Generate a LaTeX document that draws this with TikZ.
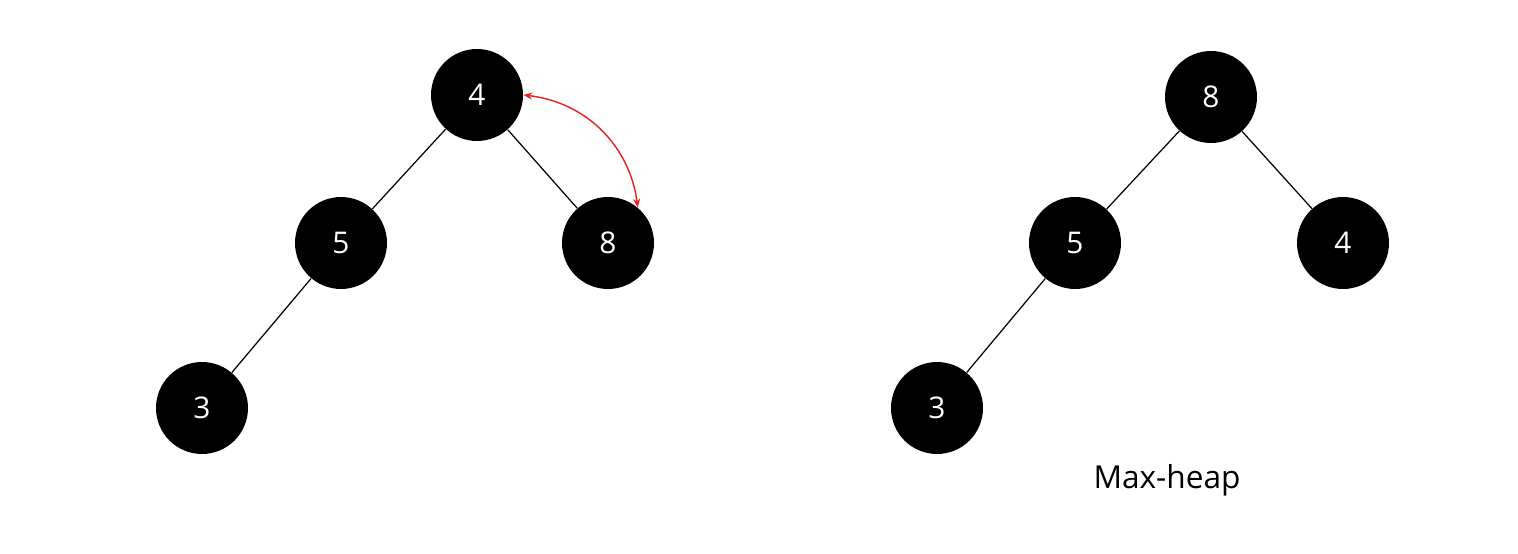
\documentclass[tikz,border=0pt]{standalone}
\usepackage{fontspec}
\setmainfont{Open Sans}
\usepackage{xcolor}
\usetikzlibrary{arrows.meta}
\definecolor{swapred}{HTML}{E8201E}

\begin{document}
\begin{tikzpicture}[x=0.02cm, y=-0.02cm,
  heapnode/.style={circle, fill=black, text=white, minimum size=1.84cm, inner sep=0pt, font=\fontsize{17}{19}\selectfont},
  treeedge/.style={line width=0.7pt}]
  \useasboundingbox (0,0) rectangle (1518,554);
  % before the swap
  \node[heapnode] (a4) at (477,95) {4};
  \node[heapnode] (a5) at (341,243) {5};
  \node[heapnode] (a8) at (608,243) {8};
  \node[heapnode] (a3) at (202,408) {3};
  \draw[treeedge] (a4) -- (a5);
  \draw[treeedge] (a4) -- (a8);
  \draw[treeedge] (a5) -- (a3);
  \draw[swapred, line width=0.8pt, {Stealth[length=5pt,width=4pt]}-{Stealth[length=5pt,width=4pt]}]
    (a4.east) to[bend left=38] (a8.50);
  % after the swap
  \node[heapnode] (b8) at (1211,97) {8};
  \node[heapnode] (b5) at (1075,243) {5};
  \node[heapnode] (b4) at (1343,243) {4};
  \node[heapnode] (b3) at (937,408) {3};
  \draw[treeedge] (b8) -- (b5);
  \draw[treeedge] (b8) -- (b4);
  \draw[treeedge] (b5) -- (b3);
  \node[font=\fontsize{18}{20}\selectfont] (caption) at (1167,480) {Max-heap};
\end{tikzpicture}
\end{document}
